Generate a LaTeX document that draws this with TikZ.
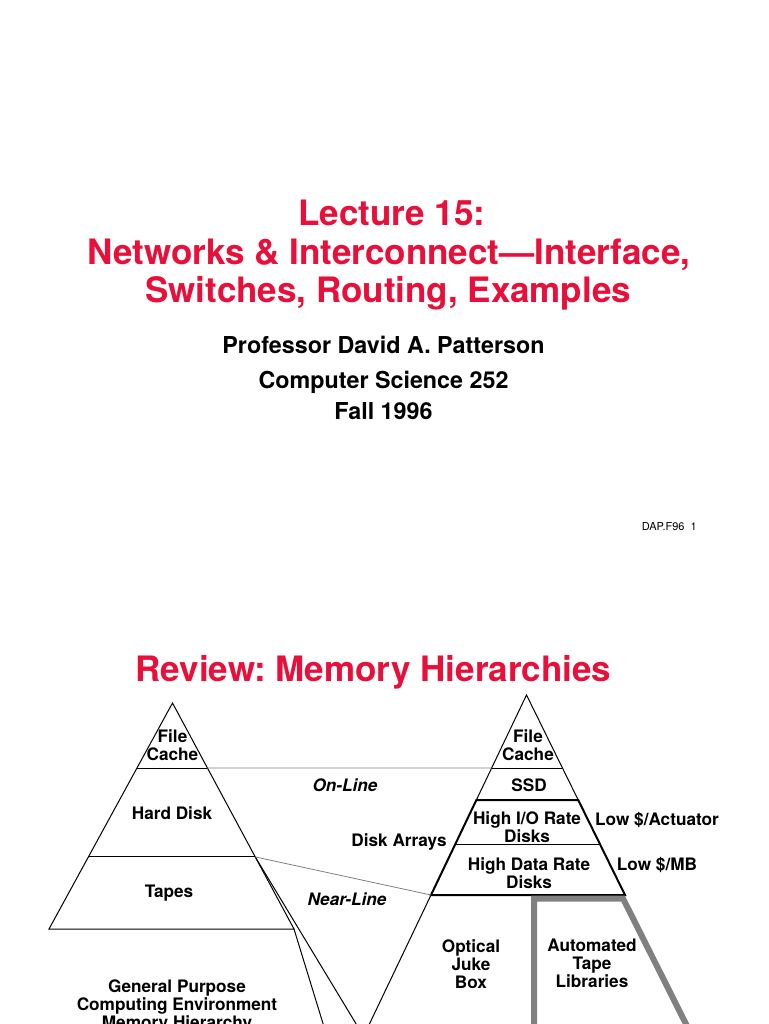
\documentclass[tikz,border=0pt]{standalone}
\usepackage{fontspec}
\setmainfont{TeX Gyre Heros}
\usetikzlibrary{calc}
\definecolor{titlered}{RGB}{232,16,58}
\definecolor{shelfgray}{RGB}{128,128,128}
\frenchspacing

\begin{document}
\begin{tikzpicture}[x=1pt,y=-1pt,
  slidetitle/.style={font=\fontsize{35}{40}\selectfont\bfseries,text=titlered,anchor=base,inner sep=0pt},
  byline/.style={font=\fontsize{23.3}{27}\selectfont\bfseries,anchor=base,inner sep=0pt},
  lbl/.style={font=\fontsize{17.2}{18}\selectfont\bfseries,align=center,inner sep=0pt},
  ilbl/.style={lbl,font=\fontsize{17.2}{18}\selectfont\bfseries\itshape},
  pyr/.style={line width=1pt},
  pyrbold/.style={line width=2pt},
  link/.style={line width=0.8pt,shelfgray},
  shelf/.style={line width=6pt,shelfgray,line join=miter}]
  \useasboundingbox (0,0) rectangle (768,1024);

  % first slide
  \node[slidetitle] (lec) at (392,225.5) {Lecture 15:};
  \node[slidetitle] (net) at (389,264.5) {Networks \& Interconnect—Interface,};
  \node[slidetitle] (sw) at (388,302.5) {Switches, Routing, Examples};
  \node[byline] (prof) at (383.5,353) {Professor David A. Patterson};
  \node[byline] (cs) at (383.5,388) {Computer Science 252};
  \node[byline] (fall) at (383.5,419) {Fall 1996};
  \node[font=\fontsize{11}{13}\selectfont,anchor=base east,inner sep=0pt] (dap) at (697,530) {DAP.F96\ \ 1};

  % second slide
  \node[slidetitle] (rev) at (373.5,681.5) {Review: Memory Hierarchies};

  \coordinate (la) at (172.5,703);
  \coordinate (lbl) at (49,929);
  \coordinate (lbr) at (294,929);
  \coordinate (lc1) at ($(la)!0.2876!(lbl)$);
  \coordinate (lc2) at ($(la)!0.2876!(lbr)$);
  \coordinate (lh1) at ($(la)!0.681!(lbl)$);
  \coordinate (lh2) at ($(la)!0.681!(lbr)$);
  \coordinate (lfootA) at ($(lbr)+(31,101)$);
  \coordinate (lfootB) at (361,1032);

  \coordinate (ra) at (526.5,695);
  \coordinate (rbl) at (431,895);
  \coordinate (rbr) at (625,895);
  \coordinate (rf1) at ($(ra)!0.365!(rbl)$);
  \coordinate (rf2) at ($(ra)!0.365!(rbr)$);
  \coordinate (rs1) at ($(ra)!0.525!(rbl)$);
  \coordinate (rs2) at ($(ra)!0.525!(rbr)$);
  \coordinate (rd1) at ($(ra)!0.745!(rbl)$);
  \coordinate (rd2) at ($(ra)!0.745!(rbr)$);
  \coordinate (rfoot) at ($(ra)!1.68!(rbl)$);
  \coordinate (tl1) at (534,1032);
  \coordinate (tl2) at (534,898.5);
  \coordinate (tl3) at (623,898.5);
  \coordinate (tl4) at (690,1032);

  \draw[pyr] (la) -- (lbl) -- (lbr) -- cycle;
  \draw[pyr] (lc1) -- (lc2);
  \draw[pyr] (lh1) -- (lh2);
  \draw[pyr] (lbr) -- (lfootA);
  \draw[pyr] (lh2) -- (lfootB);

  \draw[pyr] (rs1) -- (ra) -- (rs2);
  \draw[pyr] (rf1) -- (rf2);
  \draw[pyr] (rd1) -- (rd2);
  \draw[pyr] (rbl) -- (rfoot);
  \draw[pyrbold] (rbl) -- (rs1) -- (rs2) -- (rbr) -- cycle;
  \draw[shelf] (tl1) -- (tl2) -- (tl3) -- (tl4);

  \draw[link] (lc2) -- (rf1);
  \draw[link] (lh2) -- (rbl);

  \node[lbl] (lfile) at (172.5,745.5) {File\\Cache};
  \node[lbl] (lhard) at (172,813) {Hard Disk};
  \node[lbl] (ltapes) at (169,893) {Tapes};
  \node[lbl] (gen) at (177,1005.5) {General Purpose\\Computing Environment\\Memory Hierarchy};
  \node[ilbl] (online) at (345,785) {On-Line};
  \node[ilbl] (nearline) at (347,899) {Near-Line};
  \node[lbl] (arrays) at (399,842) {Disk Arrays};
  \node[lbl] (rfile) at (528,745.5) {File\\Cache};
  \node[lbl] (ssd) at (529,785) {SSD};
  \node[lbl] (hio) at (527,827) {High I/O Rate\\Disks};
  \node[lbl] (hdr) at (529,873) {High Data Rate\\Disks};
  \node[lbl] (lowact) at (657,820) {Low \$/Actuator};
  \node[lbl] (lowmb) at (657,865) {Low \$/MB};
  \node[lbl] (juke) at (471,964) {Optical\\Juke\\Box};
  \node[lbl] (tapelib) at (592,963) {Automated\\Tape\\Libraries};
\end{tikzpicture}
\end{document}
